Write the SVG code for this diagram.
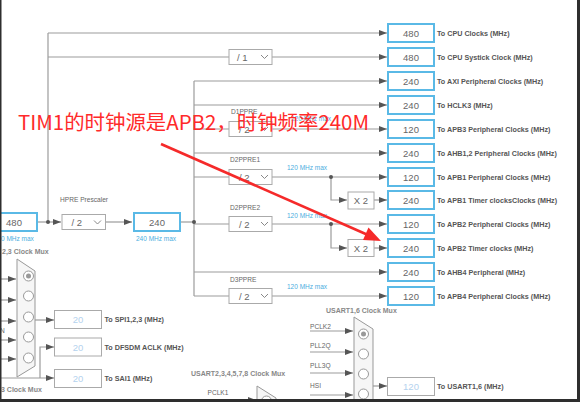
<svg xmlns="http://www.w3.org/2000/svg" width="580" height="402" viewBox="0 0 580 402">
<style>
.ln{stroke:#9c9c9c;stroke-width:1.2;fill:none}
.ar{marker-end:url(#ah)}
.ob{fill:#fff;stroke:#5ab9e6;stroke-width:2}
.ov{font-family:"Liberation Sans",Arial,sans-serif;font-size:9.5px;fill:#666;text-anchor:middle}
.ol{font-family:"Liberation Sans",Arial,sans-serif;font-size:7.2px;font-weight:bold;fill:#555}
.pb{fill:#fff;stroke:#aaa;stroke-width:1}
.pv{font-family:"Liberation Sans",Arial,sans-serif;font-size:9.5px;fill:#666}
.ch{stroke:#888;fill:none;stroke-width:1}
.sm{font-family:"Liberation Sans",Arial,sans-serif;font-size:6.6px;fill:#666}
.bl{font-family:"Liberation Sans",Arial,sans-serif;font-size:6.5px;fill:#4aaee0}
.mx{font-family:"Liberation Sans",Arial,sans-serif;font-size:7px;font-weight:bold;fill:#888}
.db{fill:#fff;stroke:#aaa;stroke-width:1}
.dv{font-family:"Liberation Sans",Arial,sans-serif;font-size:9.5px;fill:#b4d2ee;text-anchor:middle}
.dot{fill:#555}
.mux{fill:#f6f6f6;stroke:#999;stroke-width:1}
.rc{fill:#fff;stroke:#999;stroke-width:1}
.sel{fill:#999}
.xb{fill:#fff;stroke:#aaa;stroke-width:1}
.xv{font-family:"Liberation Sans",Arial,sans-serif;font-size:9.5px;fill:#666;text-anchor:middle}
</style>
<defs>
<marker id="ah" markerWidth="8" markerHeight="6" refX="8" refY="3" orient="auto" markerUnits="userSpaceOnUse"><path d="M0,0 L8,3 L0,6 z" fill="#555"/></marker>
</defs>
<rect width="580" height="402" fill="#fff"/>

<g id="connectors">
<path class="ln" d="M48,33 V222"/>
<path class="ln ar" d="M48,33 H387"/>
<path class="ln" d="M48,57 H229"/>
<path class="ln ar" d="M272,57 H387"/>
<path class="ln" d="M194,81 V296"/>
<path class="ln ar" d="M194,81 H387"/>
<path class="ln ar" d="M194,105 H387"/>
<path class="ln" d="M194,129 H229"/>
<path class="ln ar" d="M272,129 H387"/>
<path class="ln ar" d="M194,153 H387"/>
<path class="ln" d="M194,177 H229"/>
<path class="ln ar" d="M272,177 H387"/>
<path class="ln ar" d="M331,177 V200 H347"/>
<path class="ln ar" d="M374,200 H387"/>
<path class="ln" d="M194,224 H229"/>
<path class="ln ar" d="M272,224 H387"/>
<path class="ln ar" d="M331,224 V248 H347"/>
<path class="ln ar" d="M374,248 H387"/>
<path class="ln ar" d="M194,272 H387"/>
<path class="ln" d="M194,296 H229"/>
<path class="ln ar" d="M272,296 H387"/>
<path class="ln ar" d="M37,222 H61"/>
<path class="ln ar" d="M106,222 H132"/>
<path class="ln" d="M180,222 H194"/>
<path class="ln ar" d="M0,279 H16"/>
<path class="ln ar" d="M0,300 H16"/>
<path class="ln ar" d="M0,321 H16"/>
<path class="ln ar" d="M0,340 H16"/>
<path class="ln ar" d="M0,359 H16"/>
<path class="ln ar" d="M35,320 H54"/>
<path class="ln ar" d="M40,378 V347 H54"/>
<path class="ln ar" d="M0,378 H54"/>
<path class="ln ar" d="M310,331 H353"/>
<path class="ln ar" d="M310,352 H353"/>
<path class="ln ar" d="M310,373 H353"/>
<path class="ln ar" d="M310,395 H353"/>
<path class="ln ar" d="M373,386 H387"/>
<path class="ln ar" d="M207,400 H256"/>
<circle class="dot" cx="48" cy="222" r="2"/>
<circle class="dot" cx="194" cy="222" r="2"/>
<circle class="dot" cx="331" cy="177" r="2"/>
<circle class="dot" cx="331" cy="224" r="2"/>
</g>

<g id="hse-box">
<rect class="ob" x="-9" y="213" width="46" height="18"/>
<text class="ov" x="14" y="225.5">480</text>
<text class="bl" x="1" y="241">0 MHz max</text>
</g>
<g id="hpre">
<text class="sm" x="60" y="202">HPRE Prescaler</text>
<rect class="pb" x="62" y="214.5" width="43.5" height="15"/>
<text class="pv" x="71.5" y="225.5">/ 2</text>
<polyline class="ch" points="94,220.5 97.5,224 101,220.5"/>
</g>
<g id="hclk-box">
<rect class="ob" x="134" y="213" width="46" height="18"/>
<text class="ov" x="157" y="225.5">240</text>
<text class="bl" x="136" y="241">240 MHz max</text>
</g>

<g id="pre-cpu">
<rect class="pb" x="229" y="49.5" width="43" height="15"/>
<text class="pv" x="237" y="60.5">/ 1</text>
<polyline class="ch" points="261,55 264.5,58.5 268,55"/>
</g>
<g id="d1ppre">
<text class="sm" x="231" y="114">D1PPRE</text>
<rect class="pb" x="229" y="121.5" width="43" height="15"/>
<text class="pv" x="239" y="132.5">/ 2</text>
<polyline class="ch" points="261,127 264.5,130.5 268,127"/>
<text class="bl" x="291" y="121">120 MHz max</text>
</g>
<g id="d2ppre1">
<text class="sm" x="230" y="162">D2PPRE1</text>
<rect class="pb" x="229" y="169.5" width="43" height="15"/>
<text class="pv" x="239" y="180.5">/ 2</text>
<polyline class="ch" points="261,175 264.5,178.5 268,175"/>
<text class="bl" x="287" y="169.5">120 MHz max</text>
</g>
<g id="d2ppre2">
<text class="sm" x="230" y="210">D2PPRE2</text>
<rect class="pb" x="229" y="216.5" width="43" height="15"/>
<text class="pv" x="239" y="227.5">/ 2</text>
<polyline class="ch" points="261,222 264.5,225.5 268,222"/>
<text class="bl" x="287" y="218">120 MHz max</text>
</g>
<g id="d3ppre">
<text class="sm" x="230" y="282">D3PPRE</text>
<rect class="pb" x="229" y="288.5" width="43" height="15"/>
<text class="pv" x="239" y="299.5">/ 2</text>
<polyline class="ch" points="261,294 264.5,297.5 268,294"/>
<text class="bl" x="287" y="289">120 MHz max</text>
</g>
<g id="x2-apb1">
<rect class="xb" x="348" y="192" width="26" height="17"/>
<text class="xv" x="361" y="204">X 2</text>
</g>
<g id="x2-apb2">
<rect class="xb" x="348" y="239.5" width="26" height="17"/>
<text class="xv" x="361" y="251.5">X 2</text>
</g>

<g id="out-cpu"><rect class="ob" x="388" y="24" width="46" height="18"/><text class="ov" x="411" y="36.5">480</text><text class="ol" x="437" y="35.5">To CPU Clocks (MHz)</text></g>
<g id="out-systick"><rect class="ob" x="388" y="48" width="46" height="18"/><text class="ov" x="411" y="60.5">480</text><text class="ol" x="437" y="59.5">To CPU Systick Clock (MHz)</text></g>
<g id="out-axi"><rect class="ob" x="388" y="72" width="46" height="18"/><text class="ov" x="411" y="84.5">240</text><text class="ol" x="437" y="83.5">To AXI Peripheral Clocks (MHz)</text></g>
<g id="out-hclk3"><rect class="ob" x="388" y="96" width="46" height="18"/><text class="ov" x="411" y="108.5">240</text><text class="ol" x="437" y="107.5">To HCLK3 (MHz)</text></g>
<g id="out-apb3"><rect class="ob" x="388" y="120" width="46" height="18"/><text class="ov" x="411" y="132.5">120</text><text class="ol" x="437" y="131.5">To APB3 Peripheral Clocks (MHz)</text></g>
<g id="out-ahb12"><rect class="ob" x="388" y="144" width="46" height="18"/><text class="ov" x="411" y="156.5">240</text><text class="ol" x="437" y="155.5">To AHB1,2 Peripheral Clocks (MHz)</text></g>
<g id="out-apb1"><rect class="ob" x="388" y="168" width="46" height="18"/><text class="ov" x="411" y="180.5">120</text><text class="ol" x="437" y="179.5">To APB1 Peripheral Clocks (MHz)</text></g>
<g id="out-apb1tim"><rect class="ob" x="388" y="191" width="46" height="18"/><text class="ov" x="411" y="203.5">240</text><text class="ol" x="437" y="202.5">To APB1 Timer clocksClocks (MHz)</text></g>
<g id="out-apb2"><rect class="ob" x="388" y="215" width="46" height="18"/><text class="ov" x="411" y="227.5">120</text><text class="ol" x="437" y="226.5">To APB2 Peripheral Clocks (MHz)</text></g>
<g id="out-apb2tim"><rect class="ob" x="388" y="239" width="46" height="18"/><text class="ov" x="411" y="251.5">240</text><text class="ol" x="437" y="250.5">To APB2 Timer clocks (MHz)</text></g>
<g id="out-ahb4"><rect class="ob" x="388" y="263" width="46" height="18"/><text class="ov" x="411" y="275.5">240</text><text class="ol" x="437" y="274.5">To AHB4 Peripheral (MHz)</text></g>
<g id="out-apb4"><rect class="ob" x="388" y="287" width="46" height="18"/><text class="ov" x="411" y="299.5">120</text><text class="ol" x="437" y="298.5">To APB4 Peripheral Clocks (MHz)</text></g>

<g id="spi-mux">
<text class="mx" x="2" y="254">2,3 Clock Mux</text>
<polygon class="mux" points="17,259 35,271 35,366 17,377"/>
<circle class="rc" cx="28.5" cy="276" r="5"/><circle class="sel" cx="28.5" cy="276" r="2.5"/>
<circle class="rc" cx="28.5" cy="296" r="5"/>
<circle class="rc" cx="28.5" cy="317" r="5"/>
<circle class="rc" cx="28.5" cy="337" r="5"/>
<circle class="rc" cx="28.5" cy="358" r="5"/>
<text class="sm" x="0" y="333">N</text>
<text class="mx" x="1" y="392">3 Clock Mux</text>
</g>
<g id="out-spi"><rect class="db" x="54.5" y="310.5" width="47" height="18"/><text class="dv" x="78" y="323">20</text><text class="ol" x="104.5" y="322">To SPI1,2,3 (MHz)</text></g>
<g id="out-dfsdm"><rect class="db" x="54.5" y="338" width="47" height="18"/><text class="dv" x="78" y="350.5">20</text><text class="ol" x="104.5" y="349.5">To DFSDM ACLK (MHz)</text></g>
<g id="out-sai1"><rect class="db" x="54.5" y="369.5" width="47" height="18"/><text class="dv" x="78" y="382">20</text><text class="ol" x="104.5" y="381">To SAI1 (MHz)</text></g>

<g id="usart16-mux">
<text class="mx" x="326" y="313">USART1,6 Clock Mux</text>
<text class="sm" x="310" y="328.5">PCLK2</text>
<text class="sm" x="310" y="348">PLL2Q</text>
<text class="sm" x="310" y="368">PLL3Q</text>
<text class="sm" x="310" y="388">HSI</text>
<polygon class="mux" points="354,317 373,329 373,420 354,432"/>
<circle class="rc" cx="363.5" cy="334" r="5"/><circle class="sel" cx="363.5" cy="334" r="2.5"/>
<circle class="rc" cx="363.5" cy="354" r="5"/>
<circle class="rc" cx="363.5" cy="374" r="5"/>
<circle class="rc" cx="363.5" cy="394" r="5"/>
</g>
<g id="out-usart16"><rect class="db" x="387.5" y="377.5" width="47" height="18"/><text class="dv" x="411" y="390">120</text><text class="ol" x="437" y="389">To USART1,6 (MHz)</text></g>

<g id="usart2-mux">
<text class="mx" x="191" y="376" fill="#777">USART2,3,4,5,7,8 Clock Mux</text>
<text class="sm" x="207.5" y="395">PCLK1</text>
<polygon class="mux" points="257,386 276,398 276,420 257,430"/>
<circle class="rc" cx="266.5" cy="401" r="5"/>
</g>

<g id="annotation">
<text x="18" y="129.5" font-family="Noto Sans CJK SC, Noto Sans, sans-serif" font-size="20" fill="#ff2a2a" textLength="351" lengthAdjust="spacingAndGlyphs">TIM1的时钟源是APB2，时钟频率240M</text>
<line x1="161" y1="144" x2="368" y2="235" stroke="#f52a2a" stroke-width="2.6"/>
<polygon points="381,241 363,240 368.5,227.5" fill="#f52a2a"/>
</g>

<g id="frame">
<rect x="0" y="0" width="1.5" height="402" fill="#2e2e2e"/>
<rect x="577" y="0" width="3" height="402" fill="#2e2e2e"/>
<rect x="0" y="399" width="580" height="3" fill="#2e2e2e"/>
</g>
</svg>
